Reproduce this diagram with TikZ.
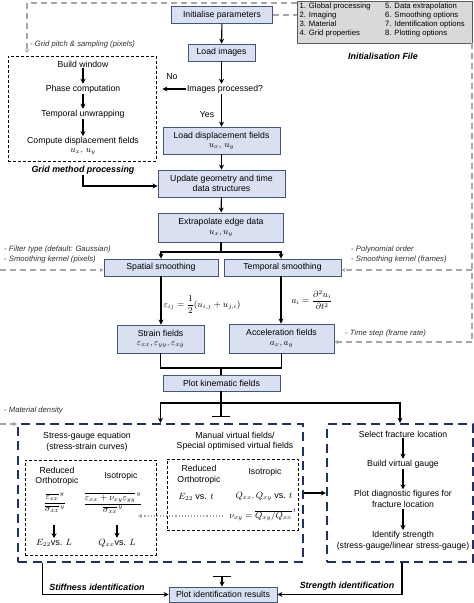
\documentclass[tikz,border=0pt]{standalone}
\usepackage{amsmath}
\usepackage{fontspec}
\setmainfont{Liberation Sans}
\usetikzlibrary{arrows.meta}
\definecolor{bordc}{HTML}{44557A}
\definecolor{fillc}{HTML}{D8E0F2}
\definecolor{navyc}{HTML}{1F3068}
\definecolor{gdc}{HTML}{A6A6A6}
\definecolor{labc}{HTML}{303030}
\definecolor{ifill}{HTML}{D9D9D9}
\definecolor{iborder}{HTML}{595959}
\begin{document}
\begin{tikzpicture}[x=1pt,y=-1pt,
 box/.style={draw=bordc, fill=fillc, line width=0.9pt, align=center, font=\fontsize{8.7}{10.5}\selectfont, inner sep=1pt},
 txt/.style={align=center, font=\fontsize{8.7}{10.5}\selectfont, inner sep=1pt},
 lab/.style={font=\fontsize{7.7}{10}\selectfont\itshape, text=labc, align=left, inner sep=0pt, anchor=west},
 bi/.style={font=\fontsize{8.9}{10}\selectfont\bfseries\itshape, inner sep=1pt},
 arr/.style={-{Stealth[length=5pt,width=5pt]}, line width=1.1pt},
 ln/.style={line width=1.1pt},
 gdash/.style={draw=gdc, line width=1.2pt, dash pattern=on 6pt off 4pt},
 garr/.style={gdash, -{Stealth[length=4pt,width=4.5pt]}},
 gdot/.style={draw=gdc, line width=1.1pt, dotted, -{Stealth[length=4pt,width=4.5pt]}},
 blkdash/.style={draw, line width=0.8pt, dash pattern=on 3pt off 2pt},
 navybox/.style={draw=navyc, line width=2.3pt, dash pattern=on 9pt off 5.5pt},
 fx/.style={font=\fontsize{9}{10}\selectfont, inner sep=1pt, align=center}]
\useasboundingbox (0,0) rectangle (474,603);

% Initialisation file
\node[draw=iborder, fill=ifill, line width=0.9pt, minimum width=175pt, minimum height=42pt, inner sep=0pt] (initf) at (384.5,22) {};
\node[anchor=north west, align=left, font=\fontsize{7.7}{9}\selectfont, inner sep=0pt] (ifa) at (299.5,3) {1. Global processing\\2. Imaging\\3. Material\\4. Grid properties};
\node[anchor=north west, align=left, font=\fontsize{7.7}{9}\selectfont, inner sep=0pt] (ifb) at (385,3) {5. Data extrapolation\\6. Smoothing options\\7. Identification options\\8. Plotting options};
\node[bi] (iflab) at (383,56) {Initialisation File};

% main column
\node[box, minimum width=101pt, minimum height=17pt] (init) at (222,15) {Initialise parameters};
\node[box, minimum width=67pt, minimum height=17pt] (load) at (221.5,52.5) {Load images};
\node[txt] (improc) at (225,89) {Images processed?};
\node[txt] (no) at (172,77) {No};
\node[txt] (yes) at (207,115) {Yes};
\node[box, minimum width=117pt, minimum height=27pt] (ldisp) at (221.5,140.5) {Load displacement fields\\[-1.5pt]$u_x,\,u_y$};
\node[box, minimum width=127pt, minimum height=27pt] (upd) at (221.5,183.5) {Update geometry and time\\data structures};
\node[box, minimum width=125pt, minimum height=29pt] (ext) at (221,227.5) {Extrapolate edge data\\[-1pt]$u_x,u_y$};
\node[box, minimum width=114pt, minimum height=17pt] (spat) at (161,267.5) {Spatial smoothing};
\node[box, minimum width=117pt, minimum height=17pt] (temp) at (282.5,267.5) {Temporal smoothing};
\node[box, minimum width=87pt, minimum height=28pt] (strain) at (160.5,339) {Strain fields\\[-1pt]$\varepsilon_{xx},\varepsilon_{yy},\varepsilon_{xy}$};
\node[box, minimum width=105pt, minimum height=29pt] (accel) at (281.5,338.5) {Acceleration fields\\[-1pt]$a_x,a_y$};
\node[box, minimum width=117pt, minimum height=16pt] (pk) at (221.5,383) {Plot kinematic fields};
\node[box, minimum width=108pt, minimum height=15pt] (pir) at (223,594.5) {Plot identification results};

\node[fx] (epseq) at (202,305) {$\varepsilon_{ij}=\dfrac{1}{2}(u_{i,j}+u_{j,i})$};
\node[fx] (acceq) at (312,300) {$a_i=\dfrac{\partial^2u_i}{\partial t^2}$};

% grid method box
\node[blkdash, minimum width=148pt, minimum height=105pt, inner sep=0pt] (grid) at (82,108.5) {};
\node[txt] (bw) at (83,64) {Build window};
\node[txt] (pc) at (83,89) {Phase computation};
\node[txt] (tu) at (83,114) {Temporal unwrapping};
\node[txt] (cd) at (83,146) {Compute displacement fields\\[-1.5pt]$u_x,\,u_y$};
\node[bi] (gmp) at (83,170) {Grid method processing};
\draw[arr] (bw) -- (pc);
\draw[arr] (pc) -- (tu);
\draw[arr] (tu) -- (cd);

% main connectors
\draw[arr] (init) -- (load);
\draw[arr] (load.south) -- (load.south |- improc.north);
\draw[arr] (improc.west) -- ([xshift=6pt]grid.east |- improc.west);
\draw[arr] (load.south |- improc.south) -- (ldisp.north);
\draw[arr] (ldisp) -- (upd);
\draw[arr] (gmp.south) |- ([yshift=-2.5pt]upd.west);
\draw[arr] (upd) -- (ext);
\coordinate (sp) at (221,252);
\draw[ln] (ext.south) -- (sp);
\draw[arr] (sp) -| (spat.north);
\draw[arr] (sp) -| ([xshift=-1.5pt]temp.north);
\draw[arr] (spat.south) -- (spat.south |- strain.north);
\draw[arr] ([xshift=-1.5pt]temp.south) -- ([xshift=-1.5pt]temp.south |- accel.north);
\coordinate (j1) at (221,368);
\draw[ln] (strain.south) |- (j1) -| (accel.south);
\draw[ln] (j1) -- (pk.north -| j1);

% identification boxes
\node[navybox, minimum width=285pt, minimum height=138pt, inner sep=0pt] (stiff) at (160.5,493) {};
\node[navybox, minimum width=146pt, minimum height=138pt, inner sep=0pt] (stren) at (400,493) {};
\coordinate (j2) at (221,403);
\draw[ln] (pk.south -| j2) -- (j2);
\draw[arr] (j2) -| (stiff.north);
\draw[arr] (j2) -| (stren.north);
\coordinate (bar1) at (221,417);
\draw[line width=1.1pt, -{Bar[width=18pt,line width=1.2pt]}] (j2) -- (bar1);
\draw[arr] (stiff.east) -- (stren.west);

% stiffness content
\node[txt] (sge) at (87,441.5) {Stress-gauge equation\\(stress-strain curves)};
\node[txt] (mvf) at (235,441) {Manual virtual fields/\\Special optimised virtual fields};
\node[blkdash, minimum width=131pt, minimum height=95pt, inner sep=0pt] (ib1) at (90.5,507.5) {};
\node[blkdash, minimum width=131pt, minimum height=71pt, inner sep=0pt] (ib2) at (232.5,494.5) {};
\node[txt] (ro1) at (57,476) {Reduced\\Orthotropic};
\node[txt] (is1) at (121,476) {Isotropic};
\node[fx] (f1) at (55,503) {$\dfrac{\overline{\varepsilon_{xx}}^{\,y}}{\overline{\sigma_{xx}}^{\,y}}$};
\node[fx] (f2) at (113,503) {$\dfrac{\overline{\varepsilon_{xx}+\nu_{xy}\varepsilon_{yy}}^{\,y}}{\overline{\sigma_{xx}}^{\,y}}$};
\node[fx] (e1) at (54,543) {$E_{22}$vs. $L$};
\node[fx] (q1) at (117,543) {$Q_{xx}$vs. $L$};
\draw[arr] (54,525) -- (e1.north);
\draw[arr] (117,525) -- (q1.north);
\node[txt] (ro2) at (199,474.5) {Reduced\\Orthotropic};
\node[txt] (is2) at (265,472) {Isotropic};
\node[fx] (e2) at (196,497) {$E_{22}$ vs. $t$};
\node[fx] (q2) at (264,497) {$Q_{xx},Q_{xy}$ vs. $t$};
\node[fx] (nu) at (263,515) {$\nu_{xy}=\overline{Q_{xy}/Q_{xx}}^{\,t}$};
\draw[gdot] (223,516) -- (138,516);

% strength content
\node[txt] (sfl) at (403,434) {Select fracture location};
\node[txt] (bvg) at (403,464) {Build virtual gauge};
\node[txt] (pdf) at (403,499) {Plot diagnostic figures for\\fracture location};
\node[txt] (ids) at (403,540.5) {Identify strength\\(stress-gauge/linear stress-gauge)};
\draw[arr] (sfl) -- (bvg);
\draw[arr] (bvg) -- (pdf);
\draw[arr] (pdf) -- (ids);

% bottom
\draw[arr] ([xshift=26pt]stiff.south west) |- (pir.west);
\draw[arr] ([xshift=2pt]stren.south) |- (pir.east);
\coordinate (bar2) at (222,576);
\draw[line width=1.1pt, {Bar[width=18pt,line width=1.2pt]}-{Stealth[length=5pt,width=5pt]}] (bar2) -- (pir.north -| bar2);
\node[bi] (stl) at (97,587) {Stiffness identification};
\node[bi] (srl) at (347,586) {Strength identification};

% gray parameter lines
\coordinate (gtop) at (27,3);
\coordinate (garrow) at (27,53);
\draw[garr] (initf.west |- gtop) -- (gtop) -- (garrow);
\draw[gdash] (init.east) -- (initf.west |- init.east);
\node[lab] (gpl) at (30,45) {- Grid pitch \& sampling (pixels)};
\coordinate (gr1) at (472,270);
\coordinate (gr2) at (472,342);
\draw[gdash] (gr1 |- initf.south) -- (gr2);
\draw[garr] (gr1) -- (temp.east |- gr1);
\draw[garr] (gr2) -- (accel.east |- gr2);
\node[lab] (pol) at (351,255) {- Polynomial order\\- Smoothing kernel (frames)};
\node[lab] (tsl) at (345,334) {- Time step (frame rate)};
\coordinate (gl1) at (0,270);
\draw[garr] (gl1) -- (spat.west |- gl1);
\node[lab] (ftl) at (4,255) {- Filter type (default: Gaussian)\\- Smoothing kernel (pixels)};
\coordinate (gl2) at (0,424);
\draw[garr] (gl2) -- (17,424);
\node[lab] (mdl) at (4,411) {- Material density};
\end{tikzpicture}
\end{document}
